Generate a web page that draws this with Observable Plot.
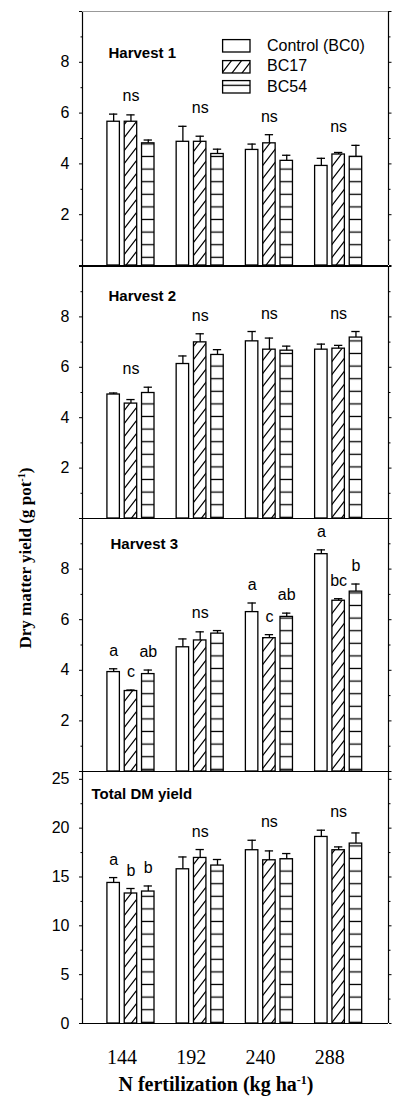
<!DOCTYPE html>
<html><head><meta charset="utf-8">
<script src="https://cdn.jsdelivr.net/npm/d3@7"></script>
<script src="https://cdn.jsdelivr.net/npm/@observablehq/plot@0.6"></script>
<style>
body{margin:0;background:#fff;}
#wrap{position:relative;width:396px;height:1099px;overflow:hidden;font-family:"Liberation Sans",Arial,sans-serif;}
.panel{position:absolute;left:0;}
.panel svg{overflow:visible;}
.ttl{position:absolute;font-family:"Liberation Serif","Times New Roman",serif;font-weight:bold;white-space:nowrap;text-align:center;color:#000;}
.ttl sup{font-size:0.6em;vertical-align:0.55em;line-height:0;}
.leg{position:absolute;left:222px;height:14px;display:flex;align-items:center;font-size:16px;color:#000;}
.leg svg{overflow:visible;}
.leg span{margin-left:17px;}
</style></head><body><div id="wrap">
<svg width="0" height="0" style="position:absolute">
<defs>
<pattern id="diag" patternUnits="userSpaceOnUse" width="10" height="13">
<rect width="10" height="13" fill="#fff"/>
<path d="M0,13L10,0M-2,2.6L2,-2.6M8,15.6L12,10.4" stroke="#000" stroke-width="1.2"/>
</pattern>
<pattern id="horiz" patternUnits="userSpaceOnUse" width="10" height="12.6">
<rect width="10" height="12.6" fill="#fff"/>
<path d="M-1,5.3H11" stroke="#000" stroke-width="1.3"/>
</pattern>
</defs></svg>
</div>
<script>
// ---- categories ----
const groups = ["144", "192", "240", "288"];
const series = ["Control (BC0)", "BC17", "BC54"];
const fills = ["#fff", "url(#diag)", "url(#horiz)"];

// ---- Harvest 1 ----
const h1BC0 = [5.66, 4.87, 4.55, 3.92];
const h1BC0se = [0.30, 0.61, 0.23, 0.30];
const h1BC17 = [5.66, 4.87, 4.81, 4.37];
const h1BC17se = [0.27, 0.22, 0.34, 0.08];
const h1BC54 = [4.81, 4.39, 4.12, 4.28];
const h1BC54se = [0.13, 0.19, 0.22, 0.45];
const h1Letters = [["ns"], ["ns"], ["ns"], ["ns"]];

// ---- Harvest 2 ----
const h2BC0 = [4.92, 6.13, 7.03, 6.70];
const h2BC0se = [0.06, 0.32, 0.39, 0.22];
const h2BC17 = [4.56, 6.99, 6.70, 6.74];
const h2BC17se = [0.16, 0.34, 0.46, 0.13];
const h2BC54 = [4.98, 6.49, 6.66, 7.18];
const h2BC54se = [0.23, 0.21, 0.18, 0.24];
const h2Letters = [["ns"], ["ns"], ["ns"], ["ns"]];

// ---- Harvest 3 ----
const h3BC0 = [3.93, 4.91, 6.30, 8.59];
const h3BC0se = [0.13, 0.33, 0.36, 0.17];
const h3BC17 = [3.18, 5.18, 5.27, 6.75];
const h3BC17se = [0.04, 0.34, 0.14, 0.08];
const h3BC54 = [3.85, 5.45, 6.11, 7.11];
const h3BC54se = [0.16, 0.12, 0.15, 0.30];
const h3Letters = [["a", "c", "ab"], ["ns"], ["a", "c", "ab"], ["a", "bc", "b"]];

// ---- Total DM yield ----
const totBC0 = [14.39, 15.79, 17.74, 19.10];
const totBC0se = [0.55, 1.26, 1.02, 0.69];
const totBC17 = [13.31, 16.95, 16.71, 17.74];
const totBC17se = [0.51, 0.86, 0.96, 0.34];
const totBC54 = [13.51, 16.17, 16.82, 18.42];
const totBC54se = [0.57, 0.62, 0.58, 1.09];
const totLetters = [["a", "b", "b"], ["ns"], ["ns"], ["ns"]];

// ---- tick values ----
const yTicksH = [0, 2, 4, 6, 8, 10];
const yLabelsH = [2, 4, 6, 8];
const yMinorH = [1, 3, 5, 7, 9];
const yTicksT = [0, 5, 10, 15, 20, 25];
const yLabelsT = [0, 5, 10, 15, 20, 25];
const yMinorT = [2.5, 7.5, 12.5, 17.5, 22.5];

const XDOM = [-0.7, 3.72];
const OFF = 0.25, BW = 0.18, CAP = 0.06;
const FONT = "'Liberation Sans', Arial, sans-serif";
const SERIF = "'Liberation Serif', 'Times New Roman', serif";

const panels = [
  {title: "Harvest 1", means: [h1BC0, h1BC17, h1BC54], ses: [h1BC0se, h1BC17se, h1BC54se], letters: h1Letters,
   ydom: [0, 10], ticks: yTicksH, labels: yLabelsH, minor: yMinorH, top: 0, mt: 11, inner: 254, mb: 0, topColor: "#999", tdx: 26, tdy: 42},
  {title: "Harvest 2", means: [h2BC0, h2BC17, h2BC54], ses: [h2BC0se, h2BC17se, h2BC54se], letters: h2Letters,
   ydom: [0, 10], ticks: yTicksH, labels: yLabelsH, minor: yMinorH, top: 260, mt: 6, inner: 252, mb: 0, topColor: "#000", tdx: 26, tdy: 30},
  {title: "Harvest 3", means: [h3BC0, h3BC17, h3BC54], ses: [h3BC0se, h3BC17se, h3BC54se], letters: h3Letters,
   ydom: [0, 10], ticks: yTicksH, labels: yLabelsH, minor: yMinorH, top: 512, mt: 6, inner: 253, mb: 0, topColor: "#000", tdx: 28, tdy: 26},
  {title: "Total DM yield", means: [totBC0, totBC17, totBC54], ses: [totBC0se, totBC17se, totBC54se], letters: totLetters,
   ydom: [0, 25.8], ticks: yTicksT, labels: yLabelsT, minor: yMinorT, top: 765, mt: 6, inner: 252, mb: 76, topColor: "#000", tdx: 9, tdy: 23, xaxis: true}
];

const wrap = d3.select("#wrap");

panels.forEach(cfg => {
  const rows = [];
  cfg.means.forEach((arr, si) => arr.forEach((v, gi) => {
    const se = cfg.ses[si][gi];
    rows.push({gi, si, s: series[si], mean: v, top: v + se, xc: gi + (si - 1) * OFF});
  }));
  const labels = [];
  cfg.letters.forEach((ls, gi) => {
    const grp = rows.filter(r => r.gi === gi);
    if (ls.length === 1) labels.push({x: gi, y: d3.max(grp, r => r.top), t: ls[0]});
    else ls.forEach((t, si) => { const r = grp[si]; labels.push({x: r.xc, y: r.top, t}); });
  });
  const marks = [
    Plot.rectY(rows, {x1: r => r.xc - BW / 2, x2: r => r.xc + BW / 2, y1: 0, y2: "mean", fill: "s", stroke: "#000", strokeWidth: 1.3}),
    Plot.ruleX(rows, {x: "xc", y1: "mean", y2: "top", stroke: "#000", strokeWidth: 1.3}),
    Plot.ruleY(rows, {y: "top", x1: r => r.xc - CAP, x2: r => r.xc + CAP, stroke: "#000", strokeWidth: 1.3}),
    Plot.ruleX(XDOM, {stroke: "#000", strokeWidth: 1.2}),
    Plot.ruleY([cfg.ydom[0]], {stroke: "#000", strokeWidth: 1.2}),
    Plot.ruleY([cfg.ydom[1]], {stroke: cfg.topColor, strokeWidth: 1.2}),
    Plot.axisY({anchor: "left", ticks: cfg.ticks, tickSize: 3, tickPadding: 10, label: null,
      tickFormat: d => cfg.labels.includes(d) ? String(d) : "", fontSize: 16, fontFamily: FONT}),
    Plot.axisY({anchor: "left", ticks: cfg.minor, tickSize: 1.5, label: null, tickFormat: () => ""}),
    Plot.axisY({anchor: "right", ticks: cfg.ticks, tickSize: 2.5, label: null, tickFormat: () => ""}),
    Plot.axisY({anchor: "right", ticks: cfg.minor, tickSize: 1.5, label: null, tickFormat: () => ""}),
    Plot.text(labels, {x: "x", y: "y", text: "t", dy: -18, fontSize: 16, fontFamily: FONT, fill: "#000"}),
    Plot.text([cfg.title], {frameAnchor: "top-left", textAnchor: "start", lineAnchor: "middle", dx: cfg.tdx, dy: cfg.tdy,
      fontSize: 15, fontWeight: "bold", fontFamily: FONT, fill: "#000"})
  ];
  if (cfg.xaxis) {
    marks.push(Plot.axisX({ticks: [0, 1, 2, 3], tickFormat: i => groups[i], tickSize: 0, tickPadding: 26, label: null,
      fontSize: 20, fontFamily: SERIF, dx: -9}));
  } else {
    marks.push(Plot.axisX({ticks: [], label: null}));
  }
  const chart = Plot.plot({
    width: 396, height: cfg.mt + cfg.inner + cfg.mb,
    marginLeft: 82, marginRight: 8, marginTop: cfg.mt, marginBottom: cfg.mb,
    x: {domain: XDOM, axis: null},
    y: {domain: cfg.ydom, axis: null},
    color: {domain: series, range: fills},
    style: {fontFamily: FONT, fontSize: "16px", background: "transparent", color: "#000", overflow: "visible"},
    marks
  });
  wrap.append("div").attr("class", "panel").style("top", cfg.top + "px").node().appendChild(chart);
});

// legend inside the first panel
series.forEach((s, i) => {
  const row = wrap.append("div").attr("class", "leg").style("top", (39 + i * 20.3) + "px");
  const sv = row.append("svg").attr("width", 28).attr("height", 13.5);
  sv.append("rect").attr("x", 0.6).attr("y", 0.6).attr("width", 27.4).attr("height", 12.4)
    .attr("fill", fills[i]).attr("stroke", "#000").attr("stroke-width", 1.3);
  row.append("span").text(s);
});

// axis titles
wrap.append("div").attr("class", "ttl")
  .style("font-size", "17px").style("line-height", "20px").style("width", "300px")
  .style("left", (26 - 150) + "px").style("top", (558 - 10) + "px")
  .style("transform", "rotate(-90deg)").style("transform-origin", "50% 50%")
  .html("Dry matter yield (g pot<sup>-1</sup>)");
wrap.append("div").attr("class", "ttl")
  .style("font-size", "20px").style("line-height", "20px").style("width", "300px")
  .style("left", (216 - 150) + "px").style("top", "1074px")
  .html("N fertilization (kg ha<sup>-1</sup>)");
</script>
</body></html>
